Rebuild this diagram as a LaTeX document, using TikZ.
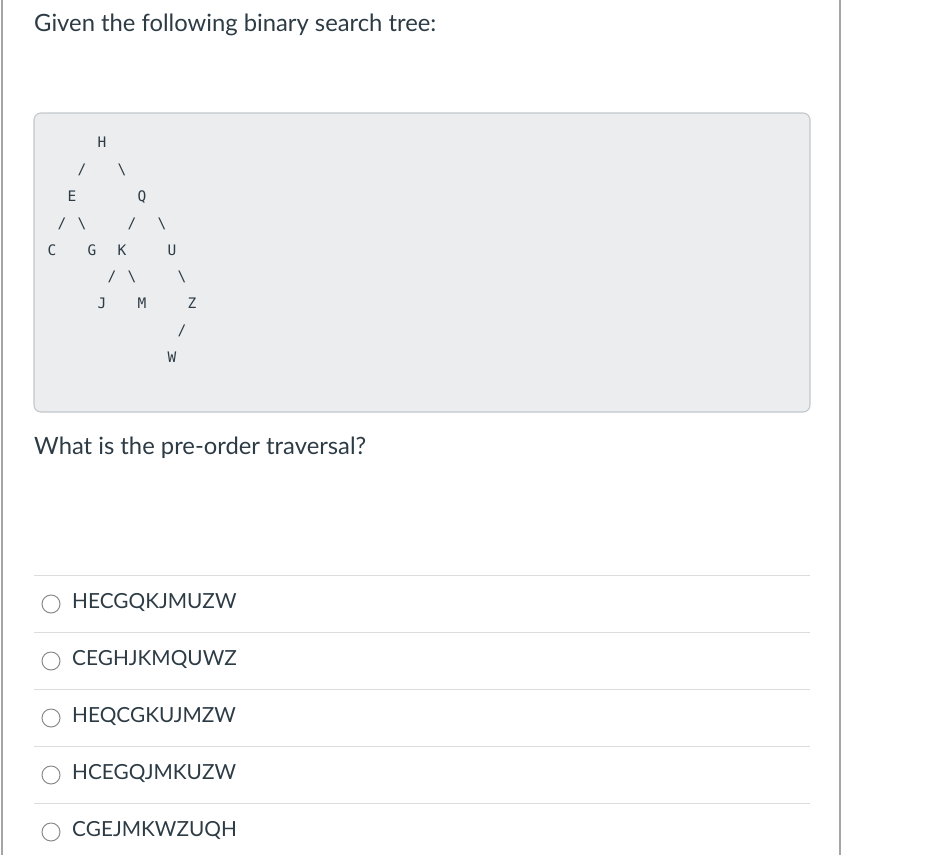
\documentclass[tikz,border=0pt]{standalone}
\usepackage{fontspec}
\setmainfont{Lato}
\setmonofont{DejaVu Sans Mono}
\definecolor{inkc}{HTML}{2D3B45}
\definecolor{boxfill}{HTML}{EBEDEF}
\definecolor{boxline}{HTML}{C2C8CC}
\definecolor{rulec}{HTML}{DDDDDD}
\definecolor{framec}{HTML}{A5A5A5}
\definecolor{radioc}{HTML}{8A8A8A}

\begin{document}
\begin{tikzpicture}[x=1pt, y=-1pt]
    \tikzstyle{prose} = [anchor=base west, inner sep=0pt, text=inkc, font=\fontsize{23.8}{28}\selectfont]
    \tikzstyle{letter} = [anchor=base, inner sep=0pt, text=inkc, font=\ttfamily\fontsize{14.5}{16}\selectfont]
    \tikzstyle{choice} = [anchor=base west, inner sep=0pt, text=inkc, font=\fontsize{20.8}{24}\selectfont]
    \tikzstyle{radio} = [circle, draw=radioc, line width=1pt, minimum size=18pt, inner sep=0pt]
    \useasboundingbox (0,0) rectangle (927,855);
    \draw[framec, line width=1.3pt] (2,0) -- (2,855);
    \draw[framec, line width=1.3pt] (840,0) -- (840,855);
    \node[prose] (title) at (34,31) {Given the following binary search tree:};
    \draw[boxline, line width=1.1pt, fill=boxfill, rounded corners=7pt] (34,113) rectangle (810,412);
    \node[letter] (H) at (102,147) {H};
    \node[letter] (E) at (72,201) {E};
    \node[letter] (Q) at (142,201) {Q};
    \node[letter] (C) at (52,255) {C};
    \node[letter] (G) at (92,255) {G};
    \node[letter] (K) at (122,255) {K};
    \node[letter] (U) at (172,255) {U};
    \node[letter] (J) at (102,308) {J};
    \node[letter] (M) at (142,308) {M};
    \node[letter] (Z) at (192,308) {Z};
    \node[letter] (W) at (172,362) {W};
    \node[letter] (HE) at (82,174) {/};
    \node[letter] (HQ) at (122,174) {\textbackslash};
    \node[letter] (EC) at (62,228) {/};
    \node[letter] (EG) at (82,228) {\textbackslash};
    \node[letter] (QK) at (132,228) {/};
    \node[letter] (QU) at (162,228) {\textbackslash};
    \node[letter] (KJ) at (112,281) {/};
    \node[letter] (KM) at (132,281) {\textbackslash};
    \node[letter] (UZ) at (182,281) {\textbackslash};
    \node[letter] (ZW) at (182,335) {/};
    \node[prose] (question) at (34,454) {What is the pre-order traversal?};
    \foreach \i/\ans in {0/HECGQKJMUZW, 1/CEGHJKMQUWZ, 2/HEQCGKUJMZW, 3/HCEGQJMKUZW, 4/CGEJMKWZUQH} {
        \draw[rulec, line width=1pt] (34,575+57*\i) -- (810,575+57*\i);
        \node[radio] (r\i) at (51,604+57*\i) {};
        \node[choice] (opt\i) at (72,608+57*\i) {\ans};
    }
\end{tikzpicture}
\end{document}
